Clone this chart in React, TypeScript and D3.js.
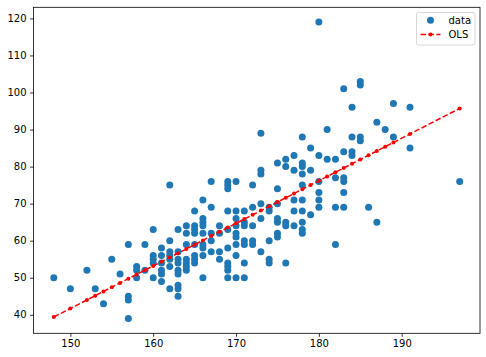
import { useEffect, useRef } from 'react'
import * as d3 from 'd3'

// heights (x) with the weights (y) seen at each height
const heights = [148, 150, 152, 153, 154, 155, 156, 157, 158, 159, 160, 161, 162, 163, 164, 165, 166, 167, 168, 169, 170, 171, 172, 173, 174, 175, 176, 177, 178, 179, 180, 181, 182, 183, 184, 185, 186, 187, 188, 189, 191, 197]
const weightsByHeight: number[][] = [
  [50],
  [47],
  [52],
  [47],
  [43],
  [55],
  [51],
  [59, 45, 44, 39],
  [53, 52, 50],
  [59, 52],
  [63, 56, 55, 54, 50],
  [58, 56, 54, 52, 51, 49],
  [75, 60, 57, 56, 55, 53, 47],
  [63, 57, 55, 54, 52, 51, 48, 47, 45],
  [64, 62, 59, 55, 54, 53, 52],
  [68, 64, 63, 62, 59, 56, 55, 54],
  [71, 66, 65, 64, 62, 59, 58, 56, 50],
  [76, 69, 62, 60, 57],
  [64, 62, 57, 55],
  [76, 75, 74, 68, 63, 58, 54, 53, 52, 50],
  [76, 68, 66, 64, 62, 61, 59, 56, 50],
  [68, 65, 64, 60, 59, 54, 50],
  [75, 69, 64, 60, 59],
  [89, 79, 78, 70, 66, 57],
  [69, 68, 60, 55, 54],
  [81, 74, 70, 66, 65, 62, 61],
  [82, 80, 65, 64, 54],
  [83, 79, 71, 68, 64],
  [88, 81, 80, 78, 75, 71, 68, 65, 63, 62],
  [85, 79, 67],
  [119, 83, 76, 73, 71, 69],
  [90, 82],
  [82, 77, 69, 59],
  [101, 84, 77, 76, 73, 69],
  [96, 88, 84, 83],
  [103, 102, 88, 87],
  [69],
  [92, 65],
  [90],
  [97, 88],
  [96, 85],
  [76]
]

// fitted OLS line
const olsIntercept = -130.65
const olsSlope = 1.149

const xTicks = [150, 160, 170, 180, 190]
const yTicks = [40, 50, 60, 70, 80, 90, 100, 110, 120]

const W = 486
const H = 357
const margin = { top: 7.3, right: 6, bottom: 23.7, left: 33.5 }

export default function App() {
  const svgRef = useRef<SVGSVGElement>(null)

  useEffect(() => {
    if (!svgRef.current) return
    const svg = d3.select(svgRef.current)
    svg.selectAll('*').remove()

    const points = heights.flatMap((h, i) => weightsByHeight[i].map(w => ({ x: h, y: w })))

    // matplotlib style 5% margins
    const [xMin, xMax] = d3.extent(points, d => d.x) as [number, number]
    const [yMin, yMax] = d3.extent(points, d => d.y) as [number, number]
    const xPad = (xMax - xMin) * 0.05
    const yPad = (yMax - yMin) * 0.05

    const x = d3.scaleLinear()
      .domain([xMin - xPad, xMax + xPad])
      .range([margin.left, W - margin.right])
    const y = d3.scaleLinear()
      .domain([yMin - yPad, yMax + yPad])
      .range([H - margin.bottom, margin.top])

    const font = 'DejaVu Sans, sans-serif'

    // data points
    svg.append('g')
      .selectAll('circle')
      .data(points)
      .enter()
      .append('circle')
      .attr('cx', d => x(d.x))
      .attr('cy', d => y(d.y))
      .attr('r', 3.5)
      .attr('fill', '#1f77b4')

    // OLS fitted values
    const fitted = heights.map(h => ({ x: h, y: olsIntercept + olsSlope * h }))
    const line = d3.line<{ x: number; y: number }>()
      .x(d => x(d.x))
      .y(d => y(d.y))

    svg.append('path')
      .datum(fitted)
      .attr('d', line)
      .attr('fill', 'none')
      .attr('stroke', 'red')
      .attr('stroke-width', 1.5)
      .attr('stroke-dasharray', '5.55,2.4')

    svg.append('g')
      .selectAll('circle')
      .data(fitted)
      .enter()
      .append('circle')
      .attr('cx', d => x(d.x))
      .attr('cy', d => y(d.y))
      .attr('r', 2)
      .attr('fill', 'red')

    // axes
    const xAxis = svg.append('g')
      .attr('transform', `translate(0,${H - margin.bottom})`)
      .call(d3.axisBottom(x).tickValues(xTicks).tickSize(3.5).tickPadding(3.5).tickSizeOuter(0))
    const yAxis = svg.append('g')
      .attr('transform', `translate(${margin.left},0)`)
      .call(d3.axisLeft(y).tickValues(yTicks).tickSize(3.5).tickPadding(3.5).tickSizeOuter(0))

    for (const ax of [xAxis, yAxis]) {
      ax.select('.domain').remove()
      ax.selectAll('line').attr('stroke', '#000').attr('stroke-width', 0.8)
      ax.selectAll('text').attr('fill', '#000').style('font-family', font).style('font-size', '10px')
    }

    // frame
    svg.append('rect')
      .attr('x', margin.left)
      .attr('y', margin.top)
      .attr('width', W - margin.right - margin.left)
      .attr('height', H - margin.bottom - margin.top)
      .attr('fill', 'none')
      .attr('stroke', '#000')
      .attr('stroke-width', 0.8)

    // legend
    const lx = 416.5
    const ly = 12.5
    const legend = svg.append('g')
    legend.append('rect')
      .attr('x', lx)
      .attr('y', ly)
      .attr('width', 58.5)
      .attr('height', 32.5)
      .attr('rx', 2)
      .attr('fill', 'white')
      .attr('fill-opacity', 0.8)
      .attr('stroke', '#cccccc')
      .attr('stroke-width', 0.8)

    legend.append('circle')
      .attr('cx', lx + 14)
      .attr('cy', ly + 7.8)
      .attr('r', 3.5)
      .attr('fill', '#1f77b4')
    legend.append('line')
      .attr('x1', lx + 4)
      .attr('x2', lx + 24)
      .attr('y1', ly + 22)
      .attr('y2', ly + 22)
      .attr('stroke', 'red')
      .attr('stroke-width', 1.5)
      .attr('stroke-dasharray', '5.55,2.4')
    legend.append('circle')
      .attr('cx', lx + 14)
      .attr('cy', ly + 22)
      .attr('r', 2)
      .attr('fill', 'red')

    legend.selectAll('text.lbl')
      .data(['data', 'OLS'])
      .enter()
      .append('text')
      .attr('class', 'lbl')
      .attr('x', lx + 32)
      .attr('y', (d, i) => ly + 7.8 + i * 14.2)
      .attr('dy', '0.35em')
      .style('font-family', font)
      .style('font-size', '10px')
      .attr('fill', '#000')
      .text(d => d)
  }, [])

  return (
    <div style={{ position: 'absolute', left: 0, top: 0 }}>
      <svg ref={svgRef} width={W} height={H} style={{ display: 'block', background: '#fff' }} />
    </div>
  )
}
